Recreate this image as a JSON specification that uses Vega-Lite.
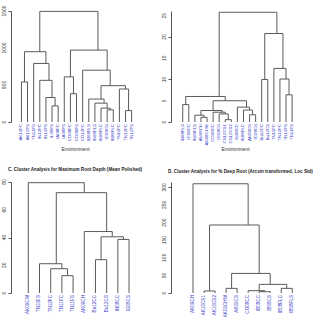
{
  "$schema": "https://vega.github.io/schema/vega-lite/v6.json",
  "padding": {"left": 1, "top": 5, "right": 0, "bottom": 0},
  "bounds": "flush",
  "columns": 2,
  "spacing": {"row": 60, "column": 32},
  "config": {
    "view": {"stroke": null},
    "font": "Liberation Sans",
    "rule": {"color": "#5a5a5a", "strokeWidth": 1},
    "axis": {
      "grid": false,
      "domainColor": "#555555",
      "tickColor": "#555555",
      "labelFont": "Liberation Sans",
      "titleFont": "Liberation Sans"
    },
    "axisY": {"title": null, "tickSize": 3, "labels": false}
  },
  "datasets": {
    "aNodes": [
      {"xl": 1, "hl": 0, "xr": 2, "hr": 0, "h": 541},
      {"xl": 6, "hl": 0, "xr": 7, "hr": 0, "h": 218},
      {"xl": 5, "hl": 0, "xr": 6.5, "hr": 218, "h": 331},
      {"xl": 4, "hl": 0, "xr": 6, "hr": 331, "h": 563},
      {"xl": 3, "hl": 0, "xr": 5.5, "hr": 563, "h": 791},
      {"xl": 1.5, "hl": 541, "xr": 5, "hr": 791, "h": 950},
      {"xl": 9, "hl": 0, "xr": 10, "hr": 0, "h": 382},
      {"xl": 8, "hl": 0, "xr": 9.5, "hr": 382, "h": 610},
      {"xl": 15, "hl": 0, "xr": 16, "hr": 0, "h": 164},
      {"xl": 14, "hl": 0, "xr": 15.5, "hr": 164, "h": 187},
      {"xl": 13, "hl": 0, "xr": 15, "hr": 187, "h": 255},
      {"xl": 12, "hl": 0, "xr": 14.5, "hr": 255, "h": 310},
      {"xl": 18, "hl": 0, "xr": 19, "hr": 0, "h": 154},
      {"xl": 17, "hl": 0, "xr": 18.5, "hr": 154, "h": 446},
      {"xl": 14, "hl": 310, "xr": 18, "hr": 446, "h": 491},
      {"xl": 11, "hl": 0, "xr": 15.5, "hr": 491, "h": 700},
      {"xl": 9, "hl": 610, "xr": 15, "hr": 700, "h": 972},
      {"xl": 4, "hl": 950, "xr": 13.5, "hr": 972, "h": 1495}
    ],
    "aLeaves": [
      {"leaf": 1, "name": "AK12FC"}, {"leaf": 2, "name": "AK12FS"}, {"leaf": 3, "name": "TN11FS"},
      {"leaf": 4, "name": "IN12FC"}, {"leaf": 5, "name": "IN12FS"}, {"leaf": 6, "name": "IL08FS"},
      {"leaf": 7, "name": "IA08FC"}, {"leaf": 8, "name": "IA08FS"}, {"leaf": 9, "name": "CO08FC"},
      {"leaf": 10, "name": "CO08FS"}, {"leaf": 11, "name": "CO12FC"}, {"leaf": 12, "name": "IB08FLS"},
      {"leaf": 13, "name": "IN08FLS"}, {"leaf": 14, "name": "IN08FLC"}, {"leaf": 15, "name": "IC08CS"},
      {"leaf": 16, "name": "IB08FLC"}, {"leaf": 17, "name": "TN11FC"}, {"leaf": 18, "name": "TN12FC"},
      {"leaf": 19, "name": "TN12FS"}
    ],
    "aTicks": [{"v": 0}, {"v": 500}, {"v": 1000}, {"v": 1500}],
    "bNodes": [
      {"xl": 1, "hl": 0, "xr": 2, "hr": 0, "h": 4.1},
      {"xl": 4, "hl": 0, "xr": 5, "hr": 0, "h": 1.1},
      {"xl": 3, "hl": 0, "xr": 4.5, "hr": 1.1, "h": 1.6},
      {"xl": 8, "hl": 0, "xr": 9, "hr": 0, "h": 0.55},
      {"xl": 7, "hl": 0, "xr": 8.5, "hr": 0.55, "h": 1.9},
      {"xl": 6, "hl": 0, "xr": 8, "hr": 1.9, "h": 2.3},
      {"xl": 4, "hl": 1.6, "xr": 7.5, "hr": 2.3, "h": 2.7},
      {"xl": 12, "hl": 0, "xr": 13, "hr": 0, "h": 1.7},
      {"xl": 11, "hl": 0, "xr": 12.5, "hr": 1.7, "h": 2.8},
      {"xl": 10, "hl": 0, "xr": 12, "hr": 2.8, "h": 3.5},
      {"xl": 6, "hl": 2.7, "xr": 11.5, "hr": 3.5, "h": 5.0},
      {"xl": 1.5, "hl": 4.1, "xr": 8, "hr": 5.0, "h": 6.0},
      {"xl": 14, "hl": 0, "xr": 15, "hr": 0, "h": 10.0},
      {"xl": 18, "hl": 0, "xr": 19, "hr": 0, "h": 6.4},
      {"xl": 17, "hl": 0, "xr": 18.5, "hr": 6.4, "h": 10.1},
      {"xl": 16, "hl": 0, "xr": 18, "hr": 10.1, "h": 12.6},
      {"xl": 14.5, "hl": 10.0, "xr": 17.5, "hr": 12.6, "h": 20.8},
      {"xl": 7, "hl": 6.0, "xr": 16.5, "hr": 20.8, "h": 25.8}
    ],
    "bLeaves": [
      {"leaf": 1, "name": "IB08FLS"}, {"leaf": 2, "name": "IC08CC"}, {"leaf": 3, "name": "IN08FLS"},
      {"leaf": 4, "name": "AN08CH"}, {"leaf": 5, "name": "AN08CHW"}, {"leaf": 6, "name": "CO08CC"},
      {"leaf": 7, "name": "IG08CS"}, {"leaf": 8, "name": "CS12CS1"}, {"leaf": 9, "name": "CS12CS2"},
      {"leaf": 10, "name": "IN08CC"}, {"leaf": 11, "name": "IN08FLC"}, {"leaf": 12, "name": "AN08CS"},
      {"leaf": 13, "name": "IC08CS"}, {"leaf": 14, "name": "Bu12CC"}, {"leaf": 15, "name": "Bu12CS"},
      {"leaf": 16, "name": "TN11FC"}, {"leaf": 17, "name": "TN12FC"}, {"leaf": 18, "name": "TN12FS"},
      {"leaf": 19, "name": "TN11FS"}
    ],
    "bTicks": [{"v": 0}, {"v": 5}, {"v": 10}, {"v": 15}, {"v": 20}, {"v": 25}],
    "cNodes": [
      {"xl": 4, "hl": 0, "xr": 5, "hr": 0, "h": 12.5},
      {"xl": 3, "hl": 0, "xr": 4.5, "hr": 12.5, "h": 17.5},
      {"xl": 2, "hl": 0, "xr": 4, "hr": 17.5, "h": 21.1},
      {"xl": 7, "hl": 0, "xr": 8, "hr": 0, "h": 24},
      {"xl": 9, "hl": 0, "xr": 10, "hr": 0, "h": 38.6},
      {"xl": 7.5, "hl": 24, "xr": 9.5, "hr": 38.6, "h": 40.5},
      {"xl": 6, "hl": 0, "xr": 8.5, "hr": 40.5, "h": 44.3},
      {"xl": 3.5, "hl": 21.1, "xr": 8, "hr": 44.3, "h": 72.3},
      {"xl": 1, "hl": 0, "xr": 6, "hr": 72.3, "h": 79.5}
    ],
    "cLeaves": [
      {"leaf": 1, "name": "AK09CW"}, {"leaf": 2, "name": "TN10FS"}, {"leaf": 3, "name": "TN12FC"},
      {"leaf": 4, "name": "TN11FC"}, {"leaf": 5, "name": "TN11FS"}, {"leaf": 6, "name": "AK09CH"},
      {"leaf": 7, "name": "Bu12CC"}, {"leaf": 8, "name": "Bu12CS"}, {"leaf": 9, "name": "IN08CC"},
      {"leaf": 10, "name": "IG08CS"}
    ],
    "cTicks": [{"v": 0}, {"v": 20}, {"v": 40}, {"v": 60}, {"v": 80}],
    "dNodes": [
      {"xl": 2, "hl": 0, "xr": 3, "hr": 0, "h": 5.7},
      {"xl": 4, "hl": 0, "xr": 5, "hr": 0, "h": 13.2},
      {"xl": 7, "hl": 0, "xr": 8, "hr": 0, "h": 3.8},
      {"xl": 6, "hl": 0, "xr": 7.5, "hr": 3.8, "h": 6.6},
      {"xl": 9, "hl": 0, "xr": 10, "hr": 0, "h": 13.2},
      {"xl": 7, "hl": 6.6, "xr": 9.5, "hr": 13.2, "h": 24.5},
      {"xl": 4.5, "hl": 13.2, "xr": 8, "hr": 24.5, "h": 55.6},
      {"xl": 2.5, "hl": 5.7, "xr": 7, "hr": 55.6, "h": 193},
      {"xl": 1, "hl": 0, "xr": 6, "hr": 193, "h": 310}
    ],
    "dLeaves": [
      {"leaf": 1, "name": "AK09CH"}, {"leaf": 2, "name": "AK10CS1"}, {"leaf": 3, "name": "AK10CS2"},
      {"leaf": 4, "name": "AK09CHW"}, {"leaf": 5, "name": "AK09CS"}, {"leaf": 6, "name": "CO08CC"},
      {"leaf": 7, "name": "IB08CC"}, {"leaf": 8, "name": "IB08CS"}, {"leaf": 9, "name": "IB08FLC"},
      {"leaf": 10, "name": "IB08FLS"}
    ],
    "dTicks": [{"v": 0}, {"v": 50}, {"v": 100}, {"v": 150}, {"v": 200}, {"v": 250}, {"v": 300}]
  },
  "concat": [
    {
      "width": 128, "height": 111,
      "layer": [
        {
          "data": {"name": "aNodes"}, "mark": "rule",
          "encoding": {
            "x": {"field": "xl", "type": "quantitative", "scale": {"domain": [-0.7, 20.2], "nice": false, "zero": false},
                  "axis": {"title": "Environment", "labels": false, "ticks": false, "domain": false, "titlePadding": 24, "titleFontSize": 5, "titleFontWeight": "normal", "titleColor": "#333"}},
            "x2": {"field": "xr"},
            "y": {"field": "h", "type": "quantitative", "scale": {"domain": [0, 1500], "nice": false},
                  "axis": {"values": [0, 500, 1000, 1500]}}
          }
        },
        {"data": {"name": "aNodes"}, "mark": "rule",
         "encoding": {"x": {"field": "xl", "type": "quantitative"}, "y": {"field": "hl", "type": "quantitative"}, "y2": {"field": "h"}}},
        {"data": {"name": "aNodes"}, "mark": "rule",
         "encoding": {"x": {"field": "xr", "type": "quantitative"}, "y": {"field": "hr", "type": "quantitative"}, "y2": {"field": "h"}}},
        {"data": {"name": "aLeaves"},
         "mark": {"type": "text", "angle": 270, "align": "right", "baseline": "middle", "dx": -2, "fontSize": 4.4, "color": "#3d3dc8"},
         "encoding": {"x": {"field": "leaf", "type": "quantitative"}, "y": {"datum": 0}, "text": {"field": "name"}}},
        {"data": {"name": "aTicks"},
         "mark": {"type": "text", "angle": 270, "align": "center", "baseline": "bottom", "dy": -4, "fontSize": 5, "color": "#333333"},
         "encoding": {"x": {"datum": -0.7}, "y": {"field": "v", "type": "quantitative"}, "text": {"field": "v", "type": "quantitative"}}}
      ]
    },
    {
      "width": 128, "height": 111,
      "layer": [
        {
          "data": {"name": "bNodes"}, "mark": "rule",
          "encoding": {
            "x": {"field": "xl", "type": "quantitative", "scale": {"domain": [-0.93, 20.14], "nice": false, "zero": false},
                  "axis": {"title": "Environment", "labels": false, "ticks": false, "domain": false, "titlePadding": 24, "titleFontSize": 5, "titleFontWeight": "normal", "titleColor": "#333"}},
            "x2": {"field": "xr"},
            "y": {"field": "h", "type": "quantitative", "scale": {"domain": [0, 26.1], "nice": false},
                  "axis": {"values": [0, 5, 10, 15, 20, 25]}}
          }
        },
        {"data": {"name": "bNodes"}, "mark": "rule",
         "encoding": {"x": {"field": "xl", "type": "quantitative"}, "y": {"field": "hl", "type": "quantitative"}, "y2": {"field": "h"}}},
        {"data": {"name": "bNodes"}, "mark": "rule",
         "encoding": {"x": {"field": "xr", "type": "quantitative"}, "y": {"field": "hr", "type": "quantitative"}, "y2": {"field": "h"}}},
        {"data": {"name": "bLeaves"},
         "mark": {"type": "text", "angle": 270, "align": "right", "baseline": "middle", "dx": -2, "fontSize": 4.4, "color": "#3d3dc8"},
         "encoding": {"x": {"field": "leaf", "type": "quantitative"}, "y": {"datum": 0}, "text": {"field": "name"}}},
        {"data": {"name": "bTicks"},
         "mark": {"type": "text", "angle": 270, "align": "center", "baseline": "bottom", "dy": -4, "fontSize": 5, "color": "#333333"},
         "encoding": {"x": {"datum": -0.93}, "y": {"field": "v", "type": "quantitative"}, "text": {"field": "v", "type": "quantitative"}}}
      ]
    },
    {
      "width": 128, "height": 111,
      "title": {"text": "C. Cluster Analysis for Maximum Root Depth (Mean Polished)", "anchor": "start", "frame": "group", "fontSize": 4.6, "fontWeight": "bold", "offset": 8, "dx": -3, "color": "#222"},
      "layer": [
        {
          "data": {"name": "cNodes"}, "mark": "rule",
          "encoding": {
            "x": {"field": "xl", "type": "quantitative", "scale": {"domain": [-0.546, 10.89], "nice": false, "zero": false}, "axis": null},
            "x2": {"field": "xr"},
            "y": {"field": "h", "type": "quantitative", "scale": {"domain": [0, 80], "nice": false},
                  "axis": {"values": [0, 20, 40, 60, 80]}}
          }
        },
        {"data": {"name": "cNodes"}, "mark": "rule",
         "encoding": {"x": {"field": "xl", "type": "quantitative"}, "y": {"field": "hl", "type": "quantitative"}, "y2": {"field": "h"}}},
        {"data": {"name": "cNodes"}, "mark": "rule",
         "encoding": {"x": {"field": "xr", "type": "quantitative"}, "y": {"field": "hr", "type": "quantitative"}, "y2": {"field": "h"}}},
        {"data": {"name": "cLeaves"},
         "mark": {"type": "text", "angle": 270, "align": "right", "baseline": "middle", "dx": -2, "fontSize": 4.6, "color": "#3d3dc8"},
         "encoding": {"x": {"field": "leaf", "type": "quantitative"}, "y": {"datum": 0}, "text": {"field": "name"}}},
        {"data": {"name": "cTicks"},
         "mark": {"type": "text", "angle": 270, "align": "center", "baseline": "bottom", "dy": -4, "fontSize": 5, "color": "#333333"},
         "encoding": {"x": {"datum": -0.546}, "y": {"field": "v", "type": "quantitative"}, "text": {"field": "v", "type": "quantitative"}}}
      ]
    },
    {
      "width": 128, "height": 111,
      "title": {"text": "D. Cluster Analysis for % Deep Root (Arcsin transformed, Loc Std)", "anchor": "start", "frame": "group", "fontSize": 4.6, "fontWeight": "bold", "offset": 8, "dx": -3, "color": "#222"},
      "layer": [
        {
          "data": {"name": "dNodes"}, "mark": "rule",
          "encoding": {
            "x": {"field": "xl", "type": "quantitative", "scale": {"domain": [-0.995, 10.61], "nice": false, "zero": false}, "axis": null},
            "x2": {"field": "xr"},
            "y": {"field": "h", "type": "quantitative", "scale": {"domain": [0, 315], "nice": false},
                  "axis": {"values": [0, 50, 100, 150, 200, 250, 300]}}
          }
        },
        {"data": {"name": "dNodes"}, "mark": "rule",
         "encoding": {"x": {"field": "xl", "type": "quantitative"}, "y": {"field": "hl", "type": "quantitative"}, "y2": {"field": "h"}}},
        {"data": {"name": "dNodes"}, "mark": "rule",
         "encoding": {"x": {"field": "xr", "type": "quantitative"}, "y": {"field": "hr", "type": "quantitative"}, "y2": {"field": "h"}}},
        {"data": {"name": "dLeaves"},
         "mark": {"type": "text", "angle": 270, "align": "right", "baseline": "middle", "dx": -2, "fontSize": 4.6, "color": "#3d3dc8"},
         "encoding": {"x": {"field": "leaf", "type": "quantitative"}, "y": {"datum": 0}, "text": {"field": "name"}}},
        {"data": {"name": "dTicks"},
         "mark": {"type": "text", "angle": 270, "align": "center", "baseline": "bottom", "dy": -4, "fontSize": 5, "color": "#333333"},
         "encoding": {"x": {"datum": -0.995}, "y": {"field": "v", "type": "quantitative"}, "text": {"field": "v", "type": "quantitative"}}}
      ]
    }
  ]
}
